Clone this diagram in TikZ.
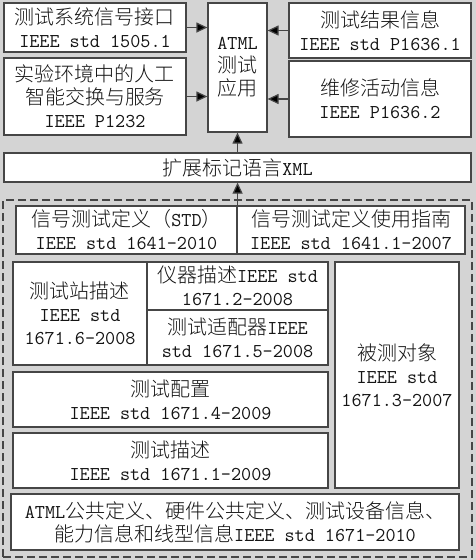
\documentclass[tikz,border=0pt]{standalone}
\usepackage{fontspec}
\setmainfont{Noto Sans CJK SC}[UprightFont=* Light]
\usetikzlibrary{arrows.meta}
\definecolor{bg}{RGB}{212,212,212}
\definecolor{ln}{RGB}{70,70,70}
\definecolor{tx}{RGB}{20,20,20}
\newcommand\en[1]{{\fontsize{19.6pt}{23pt}\ttfamily #1}}
\tikzset{
  box/.style={draw=ln, fill=white, line width=1.2pt, align=center, inner sep=0pt,
    text=tx, font=\fontsize{20pt}{23pt}\selectfont},
  grpbox/.style={draw=ln, line width=1.2pt, dash pattern=on 8pt off 4pt, inner sep=0pt},
  arr/.style={draw=ln, line width=1.2pt, -{Triangle[length=11pt,width=10pt,fill=black]}}
}
\begin{document}
\begin{tikzpicture}[x=1pt,y=-1pt]
\fill[bg] (0,0) rectangle (476,560);
\useasboundingbox (0,0) rectangle (476,560);
% top row
\node[box, minimum width=182pt, minimum height=49pt] (sig) at (95,27.5) {测试系统信号接口\\\en{IEEE std 1505.1}};
\node[box, minimum width=182pt, minimum height=77pt] (ai) at (95,96.5) {实验环境中的人工\\智能交换与服务\\\en{IEEE P1232}};
\node[box, minimum width=59pt, minimum height=129pt] (atml) at (237.5,67.5) {\en{ATML}\\测试\\应用};
\node[box, minimum width=182pt, minimum height=55pt] (res) at (380,30.5) {测试结果信息\\\en{IEEE std P1636.1}};
\node[box, minimum width=182pt, minimum height=76pt] (mnt) at (380,99) {维修活动信息\\\en{IEEE P1636.2}};
\node[box, minimum width=467pt, minimum height=29pt] (xml) at (237.5,167.5) {扩展标记语言\en{XML}};
% dashed group
\node[grpbox, minimum width=469pt, minimum height=357pt] (grp) at (237.5,378.5) {};
\node[box, minimum width=221pt, minimum height=48pt] (std) at (126.5,230) {信号测试定义（\en{STD}）\\\en{IEEE std 1641-2010}};
\node[box, minimum width=228pt, minimum height=48pt] (stdg) at (351,230) {信号测试定义使用指南\\\en{IEEE std 1641.1-2007}};
\node[box, minimum width=134pt, minimum height=103pt] (stn) at (80,313.5) {测试站描述\\\en{IEEE std}\\\en{1671.6-2008}};
\node[box, minimum width=181pt, minimum height=48pt] (ins) at (237.5,286) {仪器描述\en{IEEE std}\\\en{1671.2-2008}};
\node[box, minimum width=181pt, minimum height=55pt] (adp) at (237.5,337.5) {测试适配器\en{IEEE}\\\en{std 1671.5-2008}};
\node[box, minimum width=124pt, minimum height=226pt] (uut) at (397,375) {被测对象\\\en{IEEE std}\\\en{1671.3-2007}};
\node[box, minimum width=315pt, minimum height=55pt] (cfg) at (170.5,399.5) {测试配置\\\en{IEEE std 1671.4-2009}};
\node[box, minimum width=315pt, minimum height=55pt] (dsc) at (170.5,460.5) {测试描述\\\en{IEEE std 1671.1-2009}};
\node[box, minimum width=448pt, minimum height=56pt] (com) at (235,522) {\en{ATML}公共定义、硬件公共定义、测试设备信息、\\能力信息和线型信息\en{IEEE std 1671-2010}};
% arrows
\draw[arr] (sig.east) -- (sig.east -| atml.west);
\draw[arr] (ai.east) -- (ai.east -| atml.west);
\draw[arr] (res.west) -- (res.west -| atml.east);
\draw[arr] (mnt.west) -- (mnt.west -| atml.east);
\draw[arr] (xml.north -| atml.south) -- (atml.south);
\draw[arr] (std.north east) -- (std.north east |- xml.south);
\end{tikzpicture}
\end{document}
